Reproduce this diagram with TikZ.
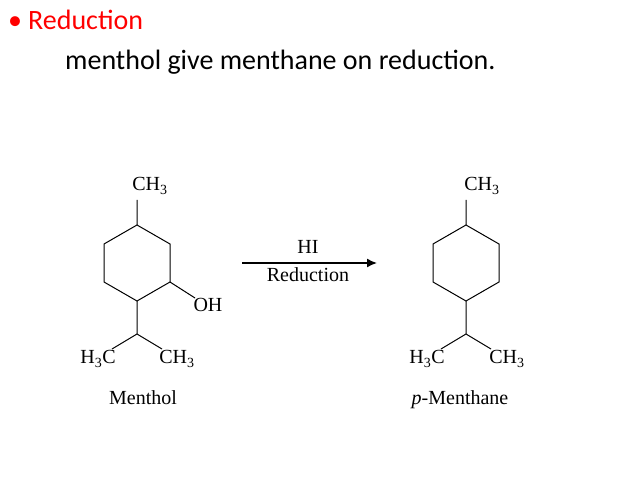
\documentclass[tikz,border=0pt]{standalone}
\usepackage{fontspec}
\setmainfont{Liberation Serif}
\newfontfamily\slidefont{Carlito}
\usetikzlibrary{arrows.meta}
\newcommand{\sub}[1]{\textsubscript{#1}}
\begin{document}
\begin{tikzpicture}[x=1pt,y=-1pt,
  bond/.style={line width=1pt},
  chem/.style={font=\fontsize{20}{20}\selectfont, inner sep=0pt},
  slide/.style={font=\slidefont\fontsize{28}{28}\selectfont, inner sep=0pt, anchor=west}]
\useasboundingbox[fill=white] (0,0) rectangle (638,478);
\node[slide, text=red] (t1) at (8,20) {•\hspace{6pt}Reduction};
\node[slide] (t2) at (65,62) {menthol give menthane on reduction.};
% menthol
\foreach \n/\x/\y in {a/137/225,b/170/244,c/170/282,d/137/301,e/104/282,f/104/244,g/137/200,h/137/334,i/112/349,j/162/349,k/195/298}
  \coordinate (m\n) at (\x,\y);
\draw[bond] (ma)--(mb)--(mc)--(md)--(me)--(mf)--cycle;
\draw[bond] (ma)--(mg) (md)--(mh) (mh)--(mi) (mh)--(mj) (mc)--(mk);
\node[chem] (mch3) at (150,186) {CH\sub{3}};
\node[chem] (moh) at (208,305) {OH};
\node[chem] (mh3c) at (98,359) {H\sub{3}C};
\node[chem] (mch3b) at (177,359) {CH\sub{3}};
\node[chem] (mlab) at (143,398) {Menthol};
% menthane
\foreach \n/\x/\y in {a/466/225,b/499/244,c/499/282,d/466/301,e/433/282,f/433/244,g/466/200,h/466/334,i/441/349,j/491/349}
  \coordinate (p\n) at (\x,\y);
\draw[bond] (pa)--(pb)--(pc)--(pd)--(pe)--(pf)--cycle;
\draw[bond] (pa)--(pg) (pd)--(ph) (ph)--(pi) (ph)--(pj);
\node[chem] (pch3) at (482,186) {CH\sub{3}};
\node[chem] (ph3c) at (427,359) {H\sub{3}C};
\node[chem] (pch3b) at (507,359) {CH\sub{3}};
\node[chem] (plab) at (460,400) {\textit{p}-Menthane};
% arrow
\coordinate (a1) at (242,263);
\coordinate (a2) at (377,263);
\draw[line width=1.5pt,-{Latex[length=10pt,width=9pt]}] (a1)--(a2);
\node[chem] (hi) at (308,247) {HI};
\node[chem] (red) at (308,275) {Reduction};
\end{tikzpicture}
\end{document}
